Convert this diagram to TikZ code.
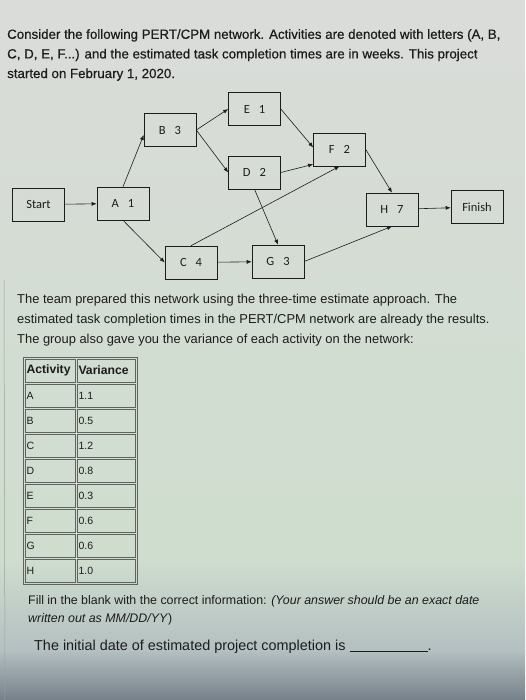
\documentclass[tikz,border=0pt]{standalone}
\usepackage{fontspec}
\setmainfont{Liberation Sans}
\newfontfamily\headfont[FakeBold=0.6]{Liberation Sans}
\newfontfamily\taskfont{Carlito}
\usetikzlibrary{arrows.meta,positioning}
\definecolor{ink}{RGB}{28,28,28}
\definecolor{bgtop}{RGB}{218,220,217}
\definecolor{bgmid}{RGB}{206,221,206}
\definecolor{bglow}{RGB}{180,192,193}
\definecolor{bgend}{RGB}{118,128,138}
\definecolor{rulegray}{RGB}{95,98,95}
\newcommand{\gap}{\hspace{9pt}}

\begin{document}
\begin{tikzpicture}[x=1pt, y=-1pt, >={Latex[length=5pt,width=4pt]},
  task/.style={draw=ink, line width=0.6pt, minimum width=52pt, minimum height=33pt, inner sep=2pt, font=\taskfont\fontsize{12.5}{14}\selectfont, text=ink},
  link/.style={->, draw=ink, line width=0.6pt},
  cell/.style={draw=rulegray, line width=0.5pt, minimum height=23pt, inner sep=1.5pt, align=left, font=\fontsize{10.5}{12}\selectfont, text=ink},
  para/.style={anchor=north west, align=left, inner sep=0pt, text=ink}]
\useasboundingbox (0,0) rectangle (525,700);
% screen background
\shade[top color=bgtop, bottom color=bgmid] (0,0) rectangle (525,560);
\shade[top color=bgmid, bottom color=bglow] (0,560) rectangle (525,650);
\shade[top color=bglow, bottom color=bgend] (0,650) rectangle (525,700);
\draw[rulegray!60, line width=0.5pt] (4,280) -- (5,700);

% question
\node[para, font=\headfont\fontsize{13.3}{19.6}\selectfont] (intro) at (7,29) {Consider the following PERT/CPM network. Activities are denoted with letters (A, B,\\ C, D, E, F...) and the estimated task completion times are in weeks. This project\\ started on February 1, 2020.};

% network
\node[task] (start) at (38.5,204.5) {Start};
\node[task] (a) at (123,203.5) {A\gap 1};
\node[task] (b) at (170,130) {B\gap 3};
\node[task] (e) at (254.5,109) {E\gap 1};
\node[task] (d) at (254.5,172.5) {D\gap 2};
\node[task] (f) at (339.5,149.5) {F\gap 2};
\node[task] (c) at (191,262.5) {C\gap 4};
\node[task] (g) at (278,261.5) {G\gap 3};
\node[task] (h) at (392,209.5) {H\gap 7};
\node[task] (finish) at (477,207) {Finish};
\draw[link] (start) -- (a);
\draw[link] (a.north) -- ([yshift=-5pt]b.west);
\draw[link] (a.south) -- (c.west);
\draw[link] (b.east) -- (e.west);
\draw[link] (b.east) -- (d.west);
\draw[link] (e.east) -- ([yshift=2pt]f.west);
\draw[link] (d.east) -- ([yshift=2pt]f.south west);
\draw[link] (c.north) -- (f.south);
\draw[link] (d.south) -- (g.north);
\draw[link] (c) -- (g);
\draw[link] (g.east) -- (h.south);
\draw[link] (f.east) -- (h.north);
\draw[link] (h) -- (finish);

% variance table
\node[para, font=\fontsize{12.9}{20}\selectfont] (team) at (17,293.5) {The team prepared this network using the three-time estimate approach. The\\ estimated task completion times in the PERT/CPM network are already the results.\\ The group also gave you the variance of each activity on the network:};
\draw[rulegray, line width=0.5pt] (23,357) rectangle (137,584);
\node[cell, text width=47pt, font=\bfseries\fontsize{12.2}{14}\selectfont] (acthead) at (50,370.5) {Activity};
\node[cell, text width=55pt, font=\bfseries\fontsize{12.2}{14}\selectfont] (varhead) at (106,370.5) {Variance};
\foreach \act/\var [count=\i] in {A/1.1, B/0.5, C/1.2, D/0.8, E/0.3, F/0.6, G/0.6, H/1.0}{
  \node[cell, text width=47pt] (act\i) at (50,371+25*\i) {\act};
  \node[cell, text width=55pt] (var\i) at (106,371+25*\i) {\var};
}

% blank to fill
\node[para, font=\fontsize{12.4}{18}\selectfont] (ask) at (28,595) {Fill in the blank with the correct information: \textit{(Your answer should be an exact date}\\ \textit{written out as MM/DD/YY})};
\node[anchor=base west, inner sep=0pt, text=ink, font=\fontsize{14.4}{17}\selectfont] (blank) at (34,650) {The initial date of estimated project completion is \rule[-1.5pt]{78pt}{0.6pt}.};
\end{tikzpicture}
\end{document}
